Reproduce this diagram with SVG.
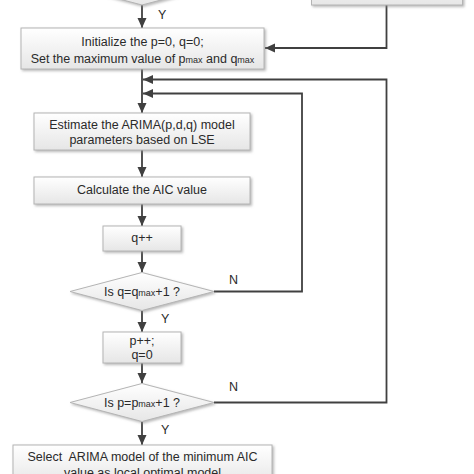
<svg xmlns="http://www.w3.org/2000/svg" width="474" height="474" viewBox="0 0 474 474">
<style>
.box{fill:url(#g);stroke:#b4b4b4;stroke-width:1;filter:url(#sh)}
.t{font-family:"Liberation Sans",Arial,sans-serif;font-size:12.5px;fill:#2a2a2a;text-anchor:middle}
.s{font-size:9px}
.lbl{font-family:"Liberation Sans",Arial,sans-serif;font-size:12.5px;fill:#2a2a2a}
.c{fill:none;stroke:#404040;stroke-width:1.8}
</style>
<defs>
<linearGradient id="g" x1="0" y1="0" x2="0" y2="1">
<stop offset="0" stop-color="#ffffff"/>
<stop offset="1" stop-color="#e6e6e6"/>
</linearGradient>
<filter id="sh" x="-10%" y="-10%" width="120%" height="130%">
<feDropShadow dx="1.5" dy="1.5" stdDeviation="1" flood-color="#8c8c8c" flood-opacity="0.6"/>
</filter>
<marker id="a" markerUnits="userSpaceOnUse" markerWidth="11" markerHeight="10" refX="10" refY="4.5" orient="auto">
<path d="M0,0 L10,4.5 L0,9 z" fill="#404040"/>
</marker>
</defs>

<g id="connectors">
<line class="c" x1="142" y1="5" x2="142" y2="28" marker-end="url(#a)"/>
<polyline class="c" points="386.5,5 386.5,48 265,48" marker-end="url(#a)"/>
<line class="c" x1="142" y1="69" x2="142" y2="113" marker-end="url(#a)"/>
<polyline class="c" points="214,402.5 386.5,402.5 386.5,79.5 143,79.5" marker-end="url(#a)"/>
<polyline class="c" points="214,291.5 302,291.5 302,93.5 143,93.5" marker-end="url(#a)"/>
<line class="c" x1="142" y1="150" x2="142" y2="177" marker-end="url(#a)"/>
<line class="c" x1="142" y1="204" x2="142" y2="226" marker-end="url(#a)"/>
<line class="c" x1="142" y1="251" x2="142" y2="272" marker-end="url(#a)"/>
<line class="c" x1="142" y1="311" x2="142" y2="332" marker-end="url(#a)"/>
<line class="c" x1="142" y1="363" x2="142" y2="383" marker-end="url(#a)"/>
<line class="c" x1="142" y1="422" x2="142" y2="445" marker-end="url(#a)"/>
<text class="lbl" x="158" y="19">Y</text>
<text class="lbl" x="229" y="284">N</text>
<text class="lbl" x="161" y="323">Y</text>
<text class="lbl" x="229" y="391">N</text>
<text class="lbl" x="161" y="434">Y</text>
</g>

<g id="top-decision">
<polygon class="box" points="70,-14 142,-33 214,-14 142,5"/>
</g>
<g id="top-right-box">
<rect class="box" x="311.5" y="-30" width="151" height="35"/>
</g>
<g id="init">
<rect class="box" x="21" y="28" width="243" height="41"/>
<text class="t" x="142.5" y="46">Initialize the p=0, q=0;</text>
<text class="t" x="142.5" y="63">Set the maximum value of p<tspan class="s">max</tspan> and q<tspan class="s">max</tspan></text>
</g>
<g id="estimate">
<rect class="box" x="34" y="113" width="216" height="37"/>
<text class="t" x="142" y="128.5">Estimate the ARIMA(p,d,q) model</text>
<text class="t" x="142" y="143.5">parameters based on LSE</text>
</g>
<g id="calculate">
<rect class="box" x="34" y="177" width="216" height="27"/>
<text class="t" x="142" y="194">Calculate the AIC value</text>
</g>
<g id="qpp">
<rect class="box" x="103" y="226" width="78" height="25"/>
<text class="t" x="142" y="242">q++</text>
</g>
<g id="decision-q">
<polygon class="box" points="70,291.5 142,272.5 214,291.5 142,310.5"/>
<text class="t" x="142" y="296">Is q=q<tspan class="s">max</tspan>+1 ?</text>
</g>
<g id="ppp">
<rect class="box" x="103" y="332" width="78" height="31"/>
<text class="t" x="142" y="345">p++;</text>
<text class="t" x="142" y="359">q=0</text>
</g>
<g id="decision-p">
<polygon class="box" points="70,402.5 142,383.5 214,402.5 142,421.5"/>
<text class="t" x="142" y="407">Is p=p<tspan class="s">max</tspan>+1 ?</text>
</g>
<g id="select">
<rect class="box" x="13" y="445" width="259" height="40"/>
<text class="t" x="142.5" y="461">Select&#160; ARIMA model of the minimum AIC</text>
<text class="t" x="142.5" y="476.5">value as local optimal model</text>
</g>
</svg>
